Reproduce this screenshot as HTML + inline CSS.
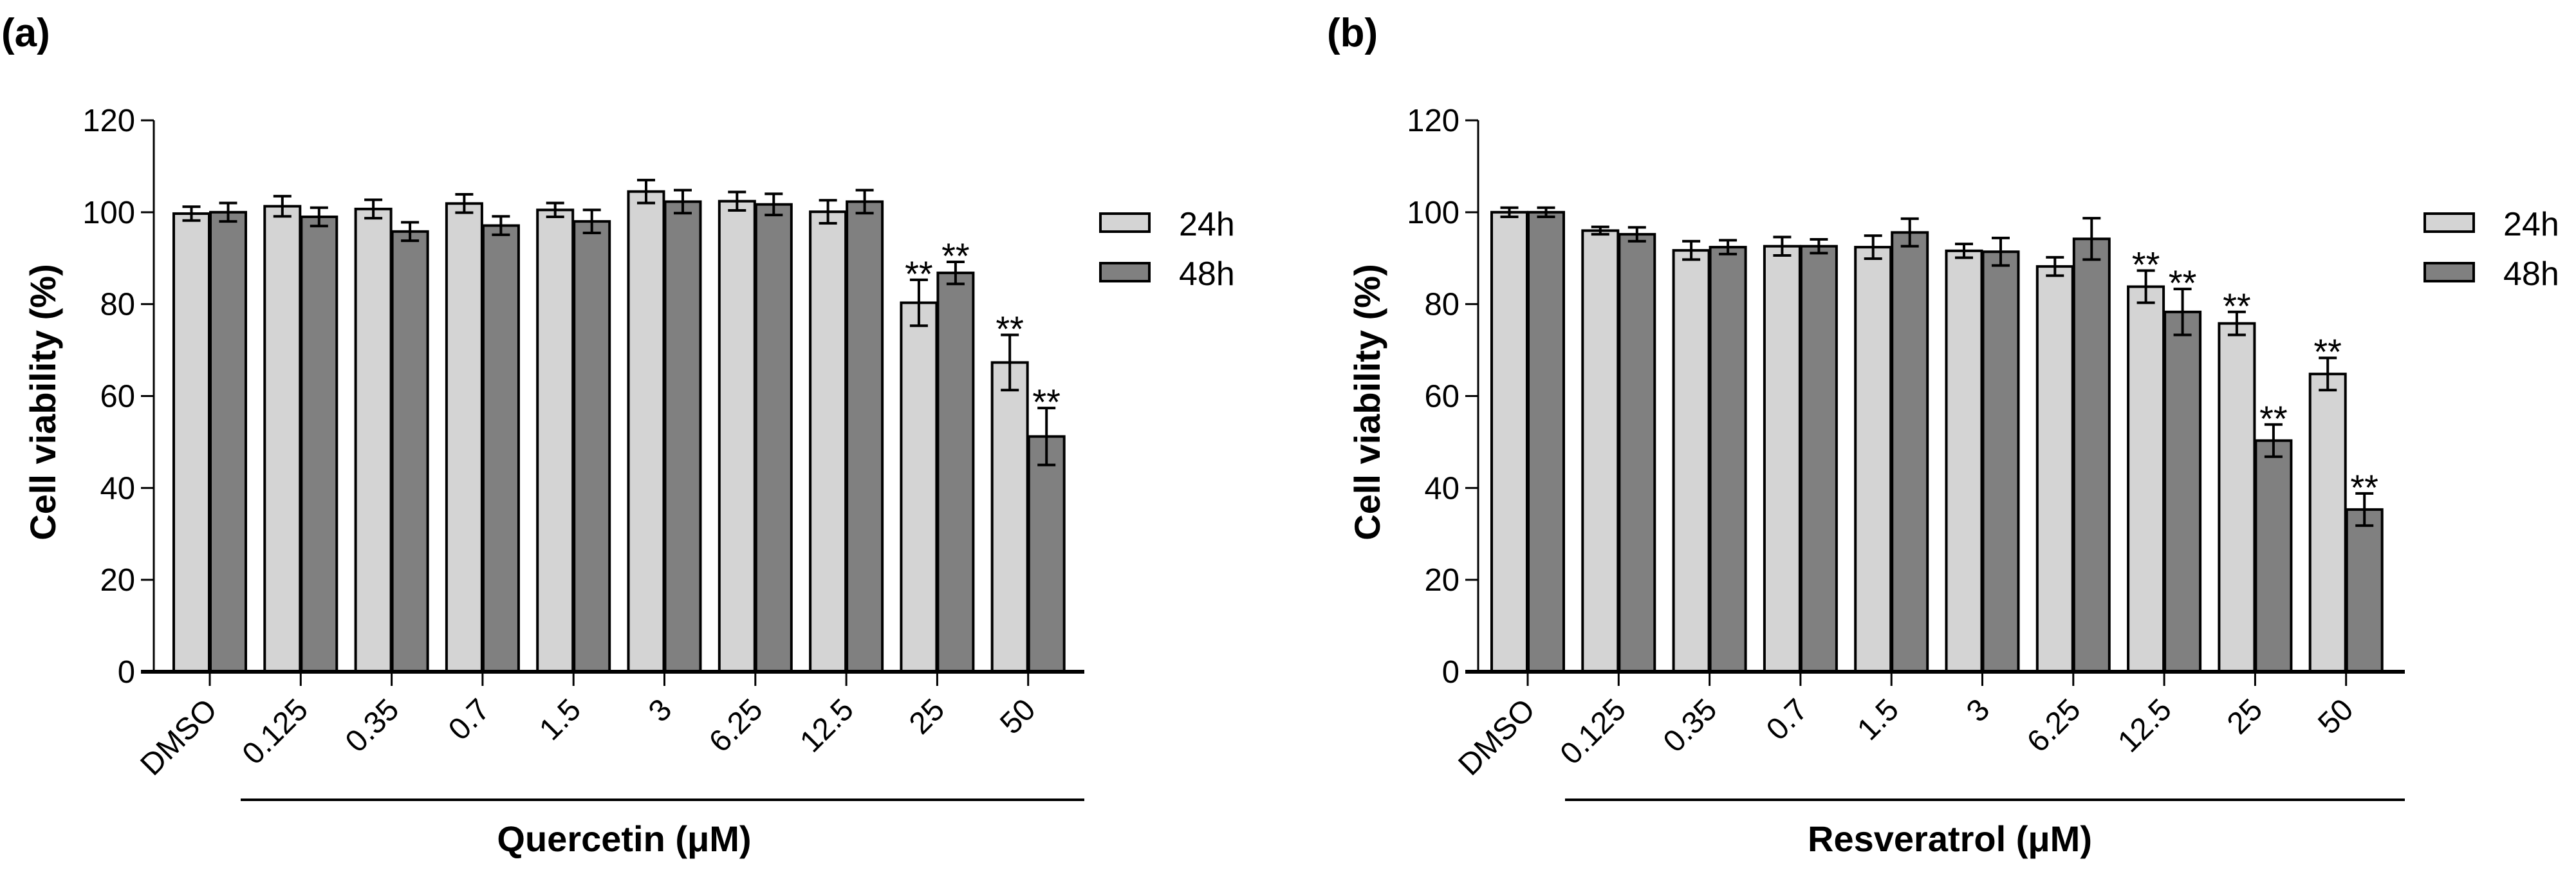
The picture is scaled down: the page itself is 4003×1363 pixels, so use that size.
<!DOCTYPE html>
<html><head><meta charset="utf-8"><style>
html,body{margin:0;padding:0;background:#fff;}
svg{display:block;font-family:"Liberation Sans",Arial,sans-serif;}
</style></head><body>
<svg id="chart" width="4003" height="1363" viewBox="0 0 4003 1363" xmlns="http://www.w3.org/2000/svg"></svg>
<script>
const categories = ["DMSO","0.125","0.35","0.7","1.5","3","6.25","12.5","25","50"];
const yTicks = [0,20,40,60,80,100,120];
const seriesNames = ["24h","48h"];
const quer24 = [99.7,101.3,100.7,101.9,100.5,104.5,102.4,100.1,80.3,67.3];
const quer24Err = [1.5,2.2,2,2,1.5,2.5,2,2.5,5,6];
const quer48 = [100,99,95.8,97.1,98,102.3,101.7,102.3,86.8,51.2];
const quer48Err = [2,2,2,2,2.5,2.5,2.3,2.5,2.4,6.2];
const quer24Sig = [0,0,0,0,0,0,0,0,1,1];
const quer48Sig = [0,0,0,0,0,0,0,0,1,1];
const res24 = [100,96,91.7,92.6,92.4,91.6,88.2,83.8,75.8,64.8];
const res24Err = [1,0.8,2,2,2.5,1.5,2,3.5,2.5,3.5];
const res48 = [100,95.2,92.4,92.6,95.6,91.4,94.2,78.3,50.3,35.3];
const res48Err = [1,1.5,1.5,1.5,3,3,4.5,5,3.5,3.5];
const res24Sig = [0,0,0,0,0,0,0,1,1,1];
const res48Sig = [0,0,0,0,0,0,0,1,1,1];

const NS="http://www.w3.org/2000/svg";
const svg=document.getElementById('chart');
function mk(tag,attrs,parent){const e=document.createElementNS(NS,tag);for(const k in attrs)e.setAttribute(k,attrs[k]);(parent||svg).appendChild(e);return e;}

function panel(opt){
  const g=mk('g',{});
  
  
  const axX=opt.axX, y0=1044, yTop=187, firstTick=opt.firstTick, step=141.3, bw=55;
  const yS=v=>y0-(v/120)*(y0-yTop);
  const xS=i=>firstTick+i*step;
  const pl=mk('text',{x:opt.labelX,y:72,'font-size':62,'font-weight':'bold'},g);
  pl.textContent=opt.label;
  
  
  const yt=mk('text',{x:0,y:0,'font-size':56,'font-weight':'bold','text-anchor':'middle',transform:`translate(${opt.yTitleX},625) rotate(-90)`},g);
  yt.textContent='Cell viability (%)';
  
  
  const ya=mk('line',{x1:axX,y1:yTop,x2:axX,y2:y0,stroke:'#000','stroke-width':3},g);
  
  
  yTicks.forEach(t=>{
    const tk=mk('line',{x1:axX-20,y1:yS(t),x2:axX,y2:yS(t),stroke:'#000','stroke-width':3},g);
    
    
    const tl=mk('text',{x:axX-29,y:yS(t)+17,'font-size':49,'text-anchor':'end'},g);
    tl.textContent=t;
    
    
  });
  const series=[{v:opt.s24,e:opt.e24,sig:opt.g24,fill:'#d4d4d4',off:-bw},{v:opt.s48,e:opt.e48,sig:opt.g48,fill:'#808080',off:0}];
  categories.forEach((c,i)=>{
    series.forEach((s,si)=>{
      const x=xS(i)+s.off+(si?1:-1);
      const r=mk('rect',{x:x,y:yS(s.v[i]),width:bw,height:y0-yS(s.v[i]),fill:s.fill,stroke:'#000','stroke-width':4},g);
      
      
      const cx=x+bw/2, yt2=yS(s.v[i]+s.e[i]), yb=yS(s.v[i]-s.e[i]);
      const eb=mk('path',{d:`M${cx},${yt2}V${yb}M${cx-14},${yt2}H${cx+14}M${cx-14},${yb}H${cx+14}`,stroke:'#000','stroke-width':4,fill:'none'},g);
      
      
      if(s.sig[i]){
        const st=mk('text',{x:cx,y:yt2+10,'font-size':56,'text-anchor':'middle'},g);
        st.textContent='**';
        
        
      }
    });
    const xt=mk('line',{x1:xS(i),y1:y0,x2:xS(i),y2:y0+22,stroke:'#000','stroke-width':3},g);
    
    
    const xl=mk('text',{x:0,y:0,'font-size':48,'text-anchor':'end',transform:`translate(${xS(i)+14},${y0+62}) rotate(-45)`},g);
    xl.textContent=c;
    
    
  });
  const xa=mk('line',{x1:axX-20,y1:y0,x2:opt.baseEnd,y2:y0,stroke:'#000','stroke-width':6},g);
  
  
  const br=mk('line',{x1:opt.brStart,y1:1243,x2:opt.baseEnd,y2:1243,stroke:'#000','stroke-width':4},g);
  
  
  const xtl=mk('text',{x:opt.xTitleX,y:1323,'font-size':56,'font-weight':'bold','text-anchor':'middle'},g);
  xtl.textContent=opt.xTitle;
  
  
  [['#d4d4d4',332],['#808080',409]].forEach((L,li)=>{
    const lb=mk('rect',{x:opt.legX,y:L[1],width:76,height:28,fill:L[0],stroke:'#000','stroke-width':4},g);
    
    
    const lt=mk('text',{x:opt.legX+122,y:L[1]+34,'font-size':52},g);
    lt.textContent=seriesNames[li];
    
    
  });
}
panel({name:'panel-a-quercetin',label:'(a)',labelX:2,yTitleX:86,axX:239,firstTick:326,baseEnd:1685,brStart:374,xTitleX:970,xTitle:'Quercetin (μM)',legX:1710,
  s24:quer24,e24:quer24Err,g24:quer24Sig,s48:quer48,e48:quer48Err,g48:quer48Sig});
panel({name:'panel-b-resveratrol',label:'(b)',labelX:2062,yTitleX:2144,axX:2297,firstTick:2374,baseEnd:3737,brStart:2432,xTitleX:3030,xTitle:'Resveratrol (μM)',legX:3768,
  s24:res24,e24:res24Err,g24:res24Sig,s48:res48,e48:res48Err,g48:res48Sig});
</script>
</body></html>
